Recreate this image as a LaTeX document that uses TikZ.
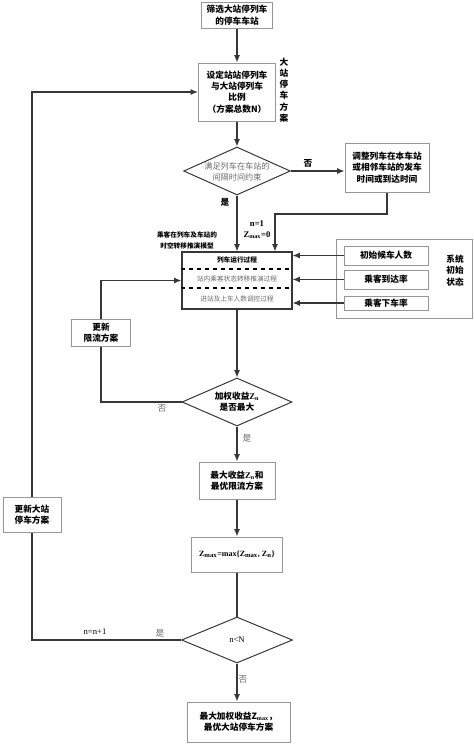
\documentclass[tikz,border=0pt]{standalone}
\usepackage{fontspec}
\setmainfont{Noto Sans CJK SC}
\newfontfamily\latfont{Liberation Serif}
\usetikzlibrary{shapes.geometric,arrows.meta}

\definecolor{lineclr}{RGB}{55,55,55}
\definecolor{boxclr}{RGB}{150,150,150}
\definecolor{softclr}{RGB}{105,105,105}

\newcommand{\Zsub}[1]{{\latfont Z\textsubscript{#1}}}

\tikzset{every picture/.style={line width=0.75pt}}
\tikzset{
  stepbox/.style={draw=boxclr, fill=white, align=center, inner sep=0pt, font=\fontsize{6.5}{8.5}\selectfont\bfseries},
  choice/.style={draw=lineclr, diamond, inner sep=0pt},
  flow/.style={draw=lineclr, line width=0.9pt, -{Latex[length=5.5pt,width=4.5pt]}},
  link/.style={draw=lineclr, line width=0.9pt},
  tag/.style={font=\fontsize{6.5}{8}\selectfont, text=softclr, align=center},
  boldtag/.style={font=\fontsize{6.5}{8.5}\selectfont\bfseries, align=center},
}

\begin{document}
\begin{tikzpicture}[x=0.75pt,y=0.75pt,yscale=-1,xscale=1]
\useasboundingbox (0,0) rectangle (474,744);

%Shape: Rectangle [id:pick]
\node[stepbox, minimum width=53.25pt, minimum height=19.5pt] (pick) at (237,15) {筛选大站停列车\\的停车车站};
%Shape: Rectangle [id:ratio]
\node[stepbox, minimum width=57.75pt, minimum height=43.5pt] (ratio) at (237,92) {设定站站停列车\\与大站停列车\\比例\\（方案总数N）};
% Text Node
\node[boldtag, font=\fontsize{6.5}{8.4}\selectfont\bfseries] (plan) at (284,90) {大\\站\\停\\车\\方\\案};

%Shape: Diamond [id:gap]
\node[choice, minimum width=80pt, minimum height=36pt] (gap) at (237,171) {};
% Text Node
\node[tag, font=\fontsize{6.1}{8}\selectfont] (gaptext) at (237,172) {满足列车在车站的\\间隔时间约束};
%Shape: Rectangle [id:adjust]
\node[stepbox, minimum width=63pt, minimum height=36.75pt] (adjust) at (387,167.5) {调整列车在本车站\\或相邻车站的发车\\时间或到达时间};
% Text Node
\node[boldtag] (gapno) at (308,163) {否};
% Text Node
\node[boldtag] (gapyes) at (225,202) {是};
% Text Node
\node[font=\fontsize{6.5}{8}\latfont\bfseries, align=center] (init) at (257,230) {n=1\\Z\textsubscript{max}=0};

%Shape: Rectangle [id:proc]
\node[draw=lineclr, line width=0.9pt, minimum width=82.5pt, minimum height=42.75pt, inner sep=0pt] (proc) at (237,280.5) {};
\draw[dashed, line width=0.9pt] (proc.west |- 0,269) -- (proc.east |- 0,269);
\draw[dashed, line width=0.9pt] (proc.west |- 0,288) -- (proc.east |- 0,288);
% Text Node
\node[font=\fontsize{5}{6}\selectfont\bfseries] (run) at (237,260) {列车运行过程};
% Text Node
\node[font=\fontsize{5}{6}\selectfont, text=softclr] (shift) at (237,278.5) {站内乘客状态转移推演过程};
% Text Node
\node[font=\fontsize{5}{6}\selectfont, text=softclr] (board) at (237,298.5) {进站及上车人数调控过程};
% Text Node
\node[font=\fontsize{5}{8}\selectfont\bfseries, align=center] (model) at (187,240.5) {乘客在列车及车站的\\时空转移推演模型};

%Shape: Rectangle [id:sys]
\node[draw=boxclr, minimum width=102pt, minimum height=59.25pt] (sys) at (404,278.5) {};
%Shape: Rectangle [id:wait]
\node[stepbox, minimum width=63pt, minimum height=14.25pt] (wait) at (386,255.5) {初始候车人数};
%Shape: Rectangle [id:arrive]
\node[stepbox, minimum width=63pt, minimum height=14.25pt] (arrive) at (386,279.5) {乘客到达率};
%Shape: Rectangle [id:alight]
\node[stepbox, minimum width=63pt, minimum height=10.5pt] (alight) at (386,303) {乘客下车率};
% Text Node
\node[boldtag, font=\fontsize{6.5}{8.6}\selectfont\bfseries] (state) at (455,270.5) {系统\\初始\\状态};

%Shape: Rectangle [id:limit]
\node[stepbox, minimum width=44.25pt, minimum height=20.25pt] (limit) at (101,332.5) {更新\\限流方案};

%Shape: Diamond [id:best]
\node[choice, minimum width=82.5pt, minimum height=36pt] (best) at (237,402) {};
% Text Node
\node[boldtag] (besttext) at (best) {加权收益\Zsub{n}\\是否最大};
% Text Node
\node[tag] (bestno) at (162,408) {否};
% Text Node
\node[tag] (bestyes) at (247,438) {是};

%Shape: Rectangle [id:result]
\node[stepbox, minimum width=57pt, minimum height=27.75pt] (result) at (237,480.5) {最大收益\Zsub{n}和\\最优限流方案};
%Shape: Rectangle [id:update]
\node[stepbox, minimum width=68.25pt, minimum height=26.25pt, font=\fontsize{6}{8}\latfont\bfseries] (update) at (237,554.5) {Z\textsubscript{max}=max\{Z\textsubscript{max}, Z\textsubscript{n}\}};

%Shape: Diamond [id:count]
\node[choice, minimum width=83.25pt, minimum height=34.5pt] (count) at (237,640) {};
% Text Node
\node[font=\fontsize{6.5}{8}\latfont] (counttext) at (count) {n<N};
% Text Node
\node[tag] (countyes) at (160,633) {是};
% Text Node
\node[font=\fontsize{6.5}{8}\latfont] (step) at (95,632) {n=n+1};
% Text Node
\node[tag] (countno) at (243,679) {否};

%Shape: Rectangle [id:final]
\node[stepbox, minimum width=77.25pt, minimum height=30pt] (final) at (238.5,722) {最大加权收益Z\textsubscript{\latfont max}，\\最优大站停车方案};
%Shape: Rectangle [id:replan]
\node[stepbox, minimum width=43.5pt, minimum height=26.25pt] (replan) at (32,514.5) {更新大站\\停车方案};

\coordinate (bend) at (275,214);
\coordinate (corner) at (32,640);

% Connectors
\draw[flow] (pick) -- (ratio);
\draw[flow] (ratio) -- (gap);
\draw[flow] (gap.east) -- (gap.east -| adjust.west);
\draw[flow] (gap) -- (proc);
\draw[flow] (adjust.south) |- (bend) -- (bend |- proc.north);
\draw[flow] (wait.west) -- (wait.west -| proc.east);
\draw[flow] (arrive.west) -- (arrive.west -| proc.east);
\draw[flow] (alight.west) -- (alight.west -| proc.east);
\draw[flow] (proc) -- (best);
\draw[link] (best.west) -| (limit.south);
\draw[flow] (limit.north) |- (proc.west);
\draw[flow] (best) -- (result);
\draw[flow] (result) -- (update);
\draw[link] (update) -- (count);
\draw[flow] (count.south) -- (count.south |- final.north);
\draw[link] (count.west) -- (corner) -- (replan.south);
\draw[flow] (replan.north) |- (ratio.west);

\end{tikzpicture}
\end{document}
